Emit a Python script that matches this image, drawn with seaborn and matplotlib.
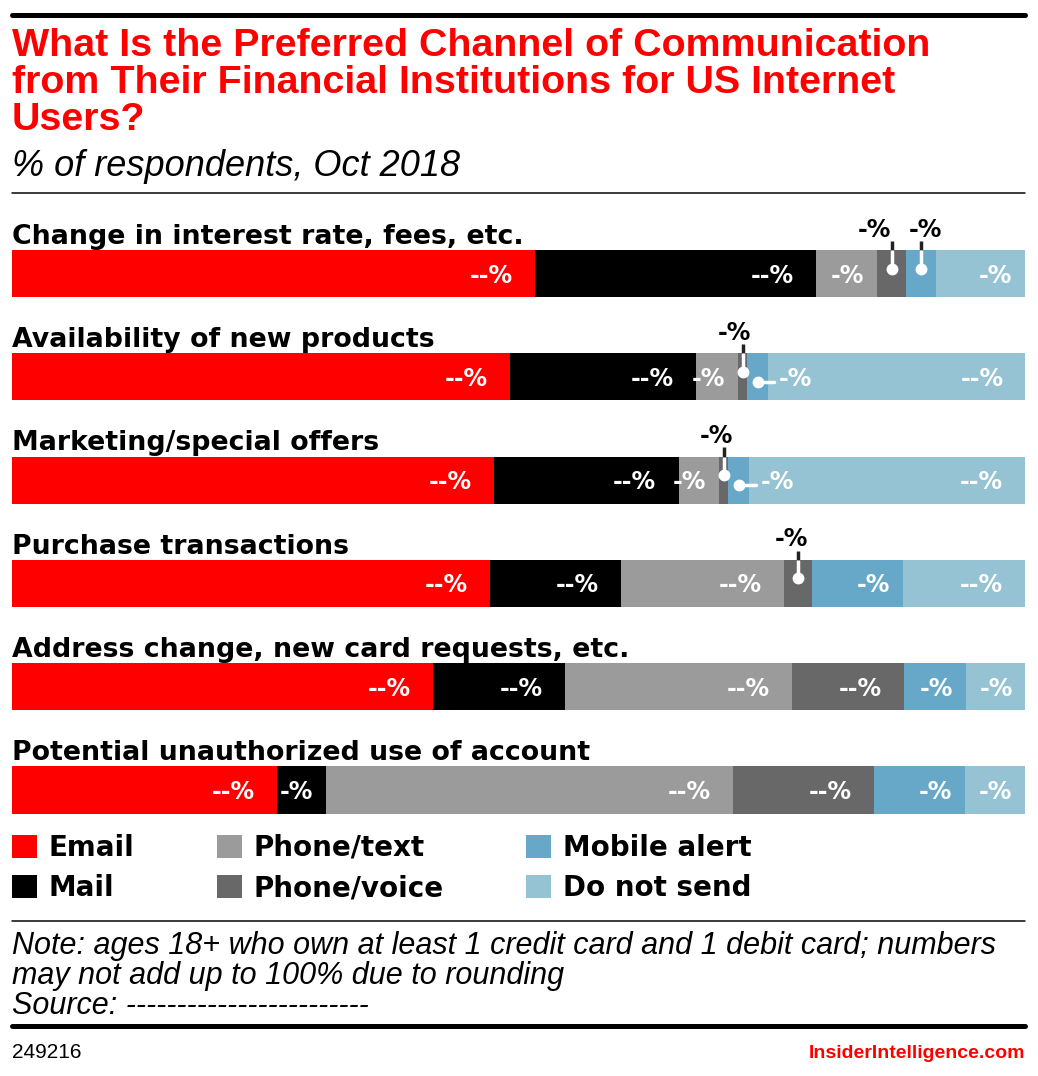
import numpy as np
import pandas as pd
import matplotlib
matplotlib.use("Agg")
import matplotlib.pyplot as plt
import seaborn as sns
from matplotlib import font_manager
from matplotlib.lines import Line2D
from matplotlib.patches import Patch

sns.set_theme(style="white")

# ---- data ----
categories = [
    "Change in interest rate, fees, etc.",
    "Availability of new products",
    "Marketing/special offers",
    "Purchase transactions",
    "Address change, new card requests, etc.",
    "Potential unauthorized use of account",
]
series = ["Email", "Mail", "Phone/text", "Phone/voice", "Mobile alert", "Do not send"]
email = [51.6, 49.2, 47.6, 47.2, 41.6, 26.2]
mail = [27.8, 18.3, 18.2, 12.9, 13.0, 4.8]
phone_text = [6.0, 4.2, 4.0, 16.1, 22.4, 40.2]
phone_voice = [2.9, 0.9, 0.9, 2.8, 11.1, 13.9]
mobile_alert = [2.9, 2.0, 2.1, 9.0, 6.1, 9.0]
do_not_send = [8.8, 25.5, 27.2, 12.0, 5.9, 5.9]
colors = ["#ff0000", "#000000", "#9b9b9b", "#686868", "#67a8c8", "#96c3d3"]

# small segments whose label sits outside the bar: (row, series) -> (where, x shift)
callouts = {(0, 3): ("above", -1.7), (0, 4): ("above", 0.4),
            (1, 3): ("above", -0.8), (1, 4): ("right", 0),
            (2, 3): ("above", -0.7), (2, 4): ("right", 0),
            (3, 3): ("above", -0.7)}

title = ("What Is the Preferred Channel of Communication\n"
         "from Their Financial Institutions for US Internet\n"
         "Users?")
subtitle = "% of respondents, Oct 2018"
note = ("Note: ages 18+ who own at least 1 credit card and 1 debit card; numbers\n"
        "may not add up to 100% due to rounding\n"
        "Source: ------------------------")

df = pd.DataFrame({"category": categories, "Email": email, "Mail": mail,
                   "Phone/text": phone_text, "Phone/voice": phone_voice,
                   "Mobile alert": mobile_alert, "Do not send": do_not_send})
cum = df[series].cumsum(axis=1)

# ---- fonts ----
names = {f.name for f in font_manager.fontManager.ttflist}
if "Liberation Sans Narrow" in names:
    NARROW, CAT_SIZE, BAR_SIZE, LEG_SIZE = "Liberation Sans Narrow", 24, 23, 24
else:
    NARROW, CAT_SIZE, BAR_SIZE, LEG_SIZE = "DejaVu Sans", 19.3, 17, 20
plt.rcParams["font.family"] = ["Liberation Sans", "DejaVu Sans"]
plt.rcParams["text.color"] = "black"

W, H = 1038, 1076
fig = plt.figure(figsize=(W / 100, H / 100), dpi=100)
fx = lambda px: px / W
fy = lambda py: 1 - py / H

# ---- bars ----
BAR_H = 0.455
unit_px = 103.3
top_px = 273.5 - unit_px
ax = fig.add_axes([fx(12), fy(top_px + 6.5 * unit_px), fx(1025) - fx(12), 6.5 * unit_px / H])
for name, color in reversed(list(zip(series, colors))):
    sns.barplot(x=cum[name], y=df["category"], orient="h", color=color,
                saturation=1, width=BAR_H, linewidth=0, errorbar=None, ax=ax)
ax.set_xlim(0, 100)
ax.set_ylim(5.5, -1.0)
ax.axis("off")

cat_font = dict(family=NARROW, size=CAT_SIZE, weight="bold")
bar_font = dict(family=NARROW, size=BAR_SIZE, weight="bold")
for i, cat in enumerate(categories):
    top = i - BAR_H / 2
    ax.text(0, top - 0.06, cat, ha="left", va="baseline", color="black", **cat_font)
    for j, s in enumerate(series):
        val = df.loc[i, s]
        right = cum.iloc[i, j]
        left = right - val
        lab = "--%" if val >= 9.5 else "-%"
        if (i, j) in callouts:
            where, shift = callouts[(i, j)]
            xc = (left + right) / 2
            if where == "above":
                ax.plot([xc, xc], [top - 0.09, top], color="#222222", lw=2.5, solid_capstyle="butt")
                ax.plot([xc, xc], [top, top + 0.18], color="white", lw=2.5, solid_capstyle="butt")
                ax.plot(xc, top + 0.18, "o", color="white", ms=7.5)
                ax.text(xc + shift, top - 0.13, lab, ha="center", va="baseline",
                        color="black", **bar_font)
            else:
                yc = i + 0.05
                ax.plot([xc, right + 0.6], [yc, yc], color="white", lw=2.5)
                ax.plot(xc, yc, "o", color="white", ms=7.5)
                ax.text(right + 1.1, i + 0.02, lab, ha="left", va="center",
                        color="white", **bar_font)
        else:
            pad = 2.2 if lab == "--%" else 1.3
            ax.text(right - pad, i + 0.02, lab, ha="right", va="center",
                    color="white", **bar_font)

# ---- titles ----
fig.text(fx(12), fy(28), title, ha="left", va="top", color="#ff0000",
         fontsize=28.4, fontweight="bold", linespacing=1.04)
fig.text(fx(12), fy(176), subtitle, ha="left", va="baseline", color="black",
         fontsize=26, fontstyle="italic")

# ---- legend ----
handles = [Patch(facecolor=c, edgecolor="none") for c in colors]
fig.legend(handles, series, ncol=3, loc="upper left",
           bbox_to_anchor=(fx(12), fy(834)), frameon=False,
           prop=dict(family=NARROW, size=LEG_SIZE, weight="bold"),
           handlelength=0.9, handleheight=0.9, handletextpad=0.43,
           columnspacing=2.95, labelspacing=0.44, borderpad=0, borderaxespad=0)

# ---- rules ----
for y, lw in [(14.5, 5), (193, 1.5), (921, 1.5), (1025.5, 5)]:
    fig.add_artist(Line2D([fx(12), fx(1025)], [fy(y), fy(y)], color="black", lw=lw * 0.72))

# ---- note & footer ----
fig.text(fx(12), fy(931), note, ha="left", va="top", color="black",
         fontsize=22, fontstyle="italic", linespacing=1.0)
fig.text(fx(12), fy(1058), "249216", ha="left", va="baseline", color="black", fontsize=15)
fig.text(fx(1025), fy(1058), "InsiderIntelligence.com", ha="right", va="baseline",
         color="#ff0000", fontsize=14, fontweight="bold")

fig.savefig("out.png", dpi=100)
